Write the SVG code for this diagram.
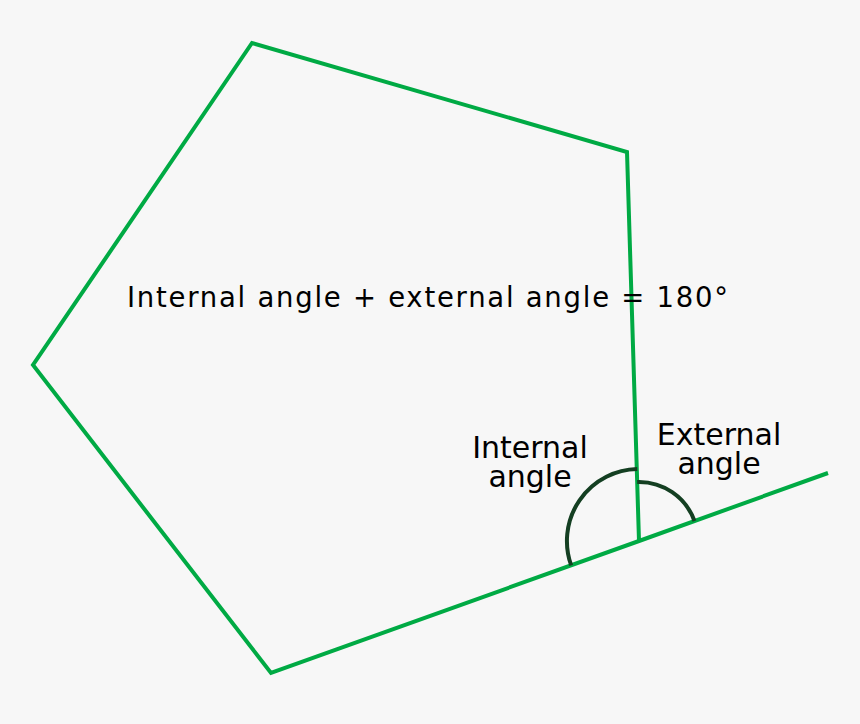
<svg xmlns="http://www.w3.org/2000/svg" width="860" height="724" viewBox="0 0 860 724">
<style>
.edge{fill:none;stroke:#00aa44;stroke-width:4;stroke-linejoin:miter}
.arc{fill:none;stroke:#143f22;stroke-width:4}
text{font-family:"DejaVu Sans",sans-serif;fill:#000}
</style>
<rect width="860" height="724" fill="#f7f7f7"/>
<g id="connectors">
<polyline class="edge" points="639,541 627,152 252,43 33,365 271,673 639,541 828,473"/>
</g>
<g id="internal-angle">
<path class="arc" d="M571.2,565.4 A72,72 0 0 1 637.2,469"/>
<text x="530" y="458" font-size="30" text-anchor="middle">Internal</text>
<text x="530" y="487" font-size="30" text-anchor="middle">angle</text>
</g>
<g id="external-angle">
<path class="arc" d="M637.2,482 A59,59 0 0 1 694.5,521"/>
<text x="719" y="445" font-size="30" text-anchor="middle">External</text>
<text x="719" y="474" font-size="30" text-anchor="middle">angle</text>
</g>
<g id="formula">
<text x="127" y="307" font-size="27.5" textLength="601" lengthAdjust="spacing">Internal angle + external angle = 180°</text>
</g>
</svg>
